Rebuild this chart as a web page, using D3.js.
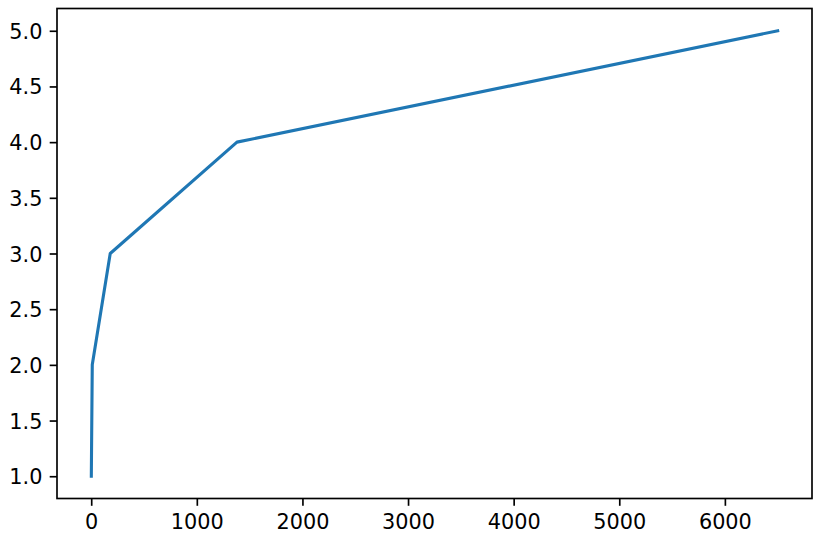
<!DOCTYPE html>
<html>
<head>
<meta charset="utf-8">
<script src="https://cdn.jsdelivr.net/npm/d3@7"></script>
<style>
  html, body { margin: 0; padding: 0; background: #fff; }
  svg { display: block; }
</style>
</head>
<body>
<svg id="chart" width="824" height="546"></svg>
<script>
// Data
const xValues = [1, 10, 180, 1380, 6500];
const yValues = [1, 2, 3, 4, 5];
const xTicks = [0, 1000, 2000, 3000, 4000, 5000, 6000];
const yTicks = [1.0, 1.5, 2.0, 2.5, 3.0, 3.5, 4.0, 4.5, 5.0];

const W = 824, H = 546;
const plot = { left: 57, right: 812, top: 8.5, bottom: 498.5 };
const fontSize = 20.8, tickLen = 7.3, tickPad = 7.3;
const lineColor = "#1f77b4";

const svg = d3.select("#chart");

// matplotlib-like 5% margins
const xExt = d3.extent(xValues), yExt = d3.extent(yValues);
const xm = (xExt[1] - xExt[0]) * 0.05, ym = (yExt[1] - yExt[0]) * 0.05;
const x = d3.scaleLinear().domain([xExt[0] - xm, xExt[1] + xm]).range([plot.left, plot.right]);
const y = d3.scaleLinear().domain([yExt[0] - ym, yExt[1] + ym]).range([plot.bottom, plot.top]);

// line
const pts = xValues.map((v, i) => [v, yValues[i]]);
svg.append("path")
  .datum(pts)
  .attr("fill", "none")
  .attr("stroke", lineColor)
  .attr("stroke-width", 3.1)
  .attr("stroke-linecap", "square")
  .attr("stroke-linejoin", "round")
  .attr("d", d3.line().x(d => x(d[0])).y(d => y(d[1])));

// axes
const xAxis = d3.axisBottom(x).tickValues(xTicks).tickFormat(d3.format("d"))
  .tickSizeInner(tickLen).tickSizeOuter(0).tickPadding(tickPad);
const yAxis = d3.axisLeft(y).tickValues(yTicks).tickFormat(d3.format(".1f"))
  .tickSizeInner(tickLen).tickSizeOuter(0).tickPadding(tickPad);

const gx = svg.append("g").attr("transform", `translate(0,${plot.bottom})`).call(xAxis);
const gy = svg.append("g").attr("transform", `translate(${plot.left},0)`).call(yAxis);

[gx, gy].forEach(g => {
  g.select(".domain").remove();
  g.selectAll(".tick line").attr("stroke", "#000").attr("stroke-width", 1.67);
  g.selectAll(".tick text")
    .attr("fill", "#000")
    .style("font-family", "'DejaVu Sans', sans-serif")
    .style("font-size", fontSize + "px");
});
gx.selectAll(".tick text").attr("dy", "0.78em");
gy.selectAll(".tick text").attr("dy", "0.36em");

// frame
svg.append("rect")
  .attr("x", plot.left).attr("y", plot.top)
  .attr("width", plot.right - plot.left).attr("height", plot.bottom - plot.top)
  .attr("fill", "none").attr("stroke", "#000").attr("stroke-width", 1.67);
</script>
</body>
</html>
